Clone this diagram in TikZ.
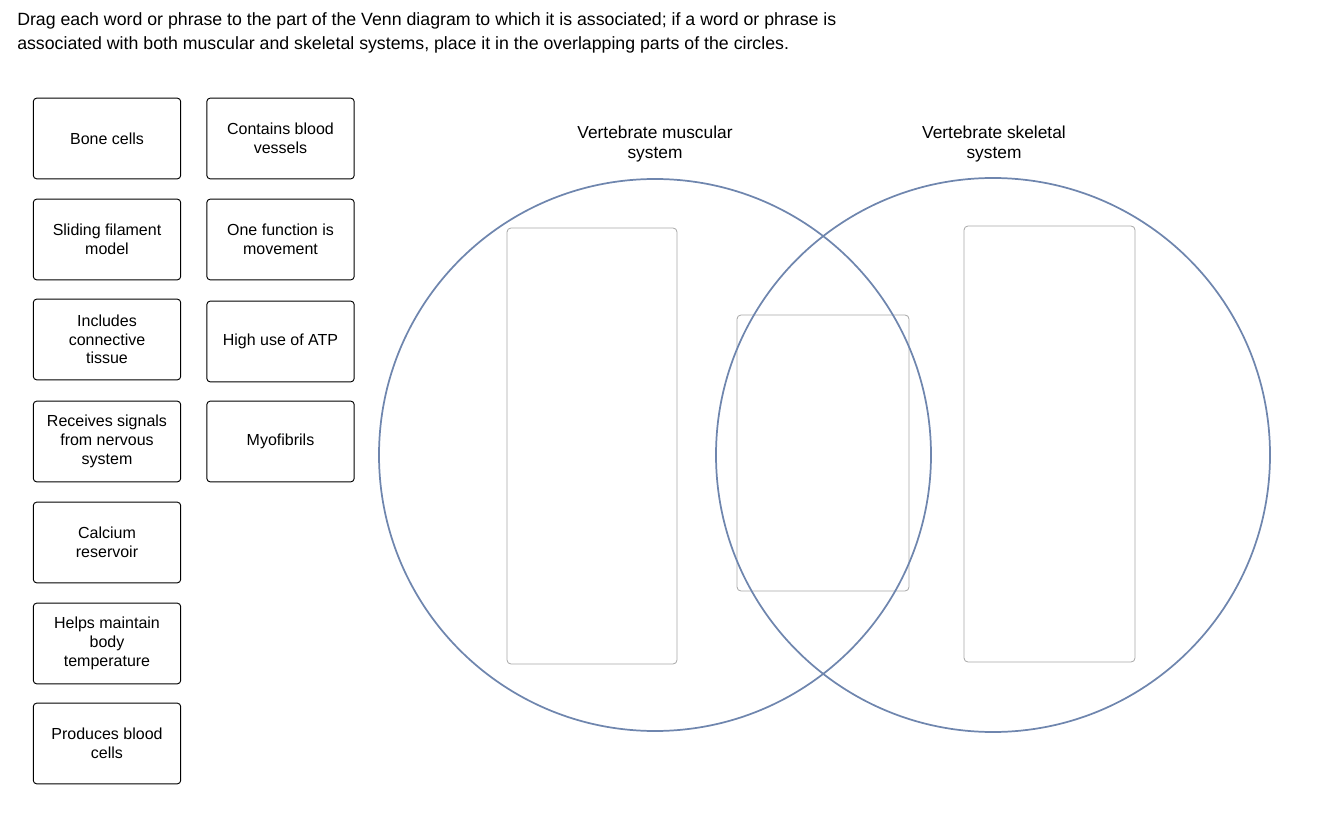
\documentclass[tikz,border=0pt]{standalone}
\usepackage{fontspec}
\setmainfont{Liberation Sans}
\definecolor{circ}{HTML}{6F86AE}
\begin{document}
\begin{tikzpicture}[x=0.75pt,y=-0.75pt,
  card/.style={draw=black,rounded corners=2.5pt,line width=0.7pt,minimum width=110.5pt,minimum height=60.5pt,align=center,font=\fontsize{12}{14}\selectfont,inner sep=2pt},
  zone/.style={draw=gray!70,rounded corners=3pt,line width=0.6pt},
  ring/.style={draw=circ,line width=1.3pt},
  lab/.style={align=center,font=\fontsize{13}{15}\selectfont}]
\useasboundingbox (0,0) rectangle (1344,816);
\node[anchor=north west,align=left,font=\fontsize{13.3}{18}\selectfont,inner sep=0] (hdr) at (17,12) {Drag each word or phrase to the part of the Venn diagram to which it is associated; if a word or phrase is\\associated with both muscular and skeletal systems, place it in the overlapping parts of the circles.};
\node[card] (a1) at (107,138.5) {Bone cells};
\node[card] (a2) at (107,239.5) {Sliding filament\\model};
\node[card] (a3) at (107,339.5) {Includes\\connective\\tissue};
\node[card] (a4) at (107,441.5) {Receives signals\\from nervous\\system};
\node[card] (a5) at (107,542.5) {Calcium\\reservoir};
\node[card] (a6) at (107,643.5) {Helps maintain\\body\\temperature};
\node[card] (a7) at (107,743.5) {Produces blood\\cells};
\node[card] (b1) at (280.5,138.5) {Contains blood\\vessels};
\node[card] (b2) at (280.5,239.5) {One function is\\movement};
\node[card] (b3) at (280.5,341.5) {High use of ATP};
\node[card] (b4) at (280.5,441.5) {Myofibrils};
\node[lab] (l1) at (655,144) {Vertebrate muscular\\system};
\node[lab] (l2) at (994,144) {Vertebrate skeletal\\system};
\draw[zone] (507,228) rectangle (677,664);
\draw[zone] (737,315) rectangle (909,591);
\draw[zone] (964,226) rectangle (1135,662);
\draw[ring] (655,455) circle[radius=276];
\draw[ring] (993,455) circle[radius=277];
\end{tikzpicture}
\end{document}
